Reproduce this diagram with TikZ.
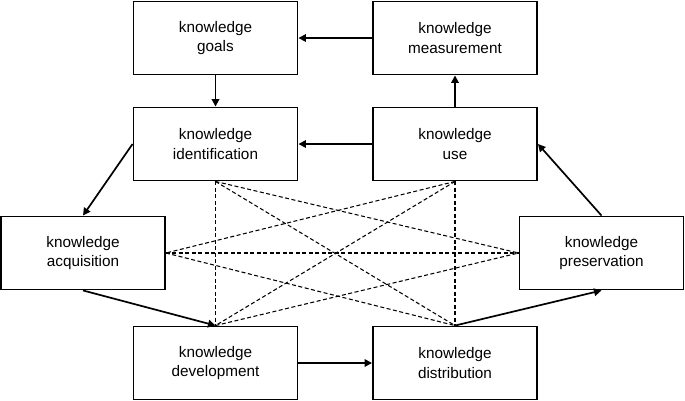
\documentclass[tikz,border=0pt]{standalone}
\usepackage{fontspec}
\setmainfont{Liberation Sans}
\usetikzlibrary{arrows.meta}

\begin{document}
\begin{tikzpicture}[
  x=1pt,
  y=-1pt,
  >={Triangle[length=7.5pt,width=7.5pt]},
  stage/.style={draw=black,line width=1.9pt,fill=white,minimum width=164pt,
    minimum height=73pt,inner sep=0pt,align=center,
    font=\fontsize{15.3}{19.5}\selectfont},
  flow/.style={line width=1.7pt,->},
  link/.style={line width=1.05pt,dash pattern=on 4pt off 2.5pt}
]
\useasboundingbox (0,0) rectangle (685,400);

% The eight building blocks.
\node[stage] (goals) at (215.5,38) {knowledge\\goals};
\node[stage] (measure) at (455,38) {knowledge\\measurement};
\node[stage] (ident) at (215.5,144) {knowledge\\identification};
\node[stage] (use) at (455,144) {knowledge\\use};
\node[stage] (acq) at (83,253) {knowledge\\acquisition};
\node[stage] (pres) at (601.5,253) {knowledge\\preservation};
\node[stage] (dev) at (215.5,363) {knowledge\\development};
\node[stage] (dist) at (455,363) {knowledge\\distribution};

% Inner core: every operative block is tied to the others.
\draw[link] (ident.south) -- (dev.north);
\draw[link] (use.south) -- (dist.north);
\draw[link] (acq.east) -- (pres.west);
\draw[link] (ident.south) -- (dist.north);
\draw[link] (use.south) -- (dev.north);
\draw[link] (ident.south) -- (pres.west);
\draw[link] (use.south) -- (acq.east);
\draw[link] (acq.east) -- (dist.north);
\draw[link] (dev.north) -- (pres.west);

% Outer cycle.
\draw[flow] (measure.west) -- (goals.east);
\draw[flow] (goals.south) -- (ident.north);
\draw[flow] (use.west) -- (ident.east);
\draw[flow] (use.north) -- (measure.south);
\draw[flow] (ident.west) -- (acq.north);
\draw[flow] (acq.south) -- (dev.north);
\draw[flow] (dev.east) -- (dist.west);
\draw[flow] (dist.north) -- (pres.south);
\draw[flow] (pres.north) -- (use.east);
\end{tikzpicture}
\end{document}
